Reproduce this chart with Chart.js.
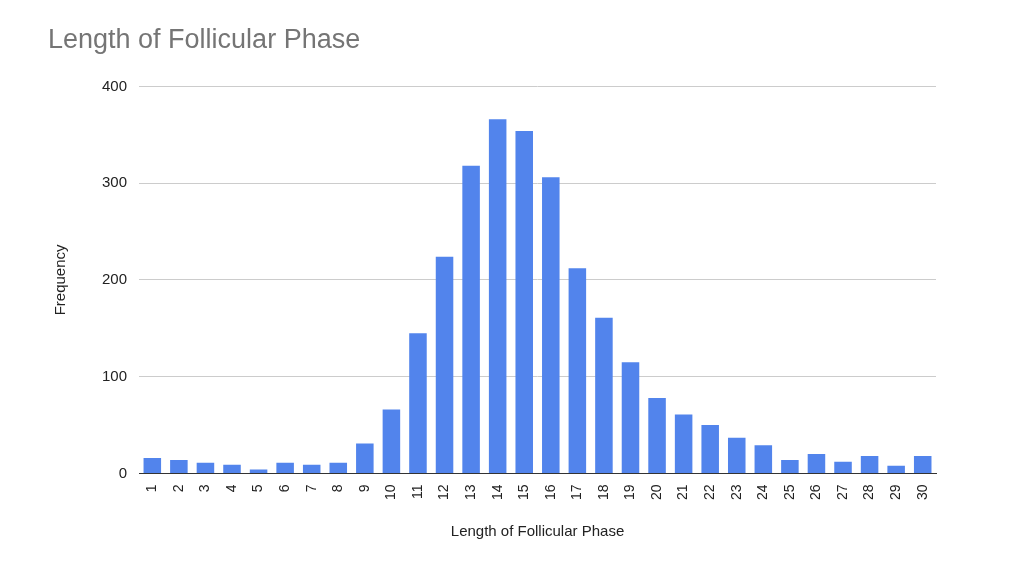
<!DOCTYPE html>
<html>
<head>
<meta charset="utf-8">
<script src="https://cdn.jsdelivr.net/npm/chart.js@4/dist/chart.umd.min.js"></script>
<style>
  html, body { margin: 0; padding: 0; background: #fff; }
  #wrap { width: 1024px; height: 565px; position: relative; }
</style>
</head>
<body>
<div id="wrap"><canvas id="histChart"></canvas></div>
<script>
const categories = ['1','2','3','4','5','6','7','8','9','10','11','12','13','14','15','16','17','18','19','20','21','22','23','24','25','26','27','28','29','30'];
const frequency = [16, 14, 11, 9, 4, 11, 9, 11, 31, 66, 145, 224, 318, 366, 354, 306, 212, 161, 115, 78, 61, 50, 37, 29, 14, 20, 12, 18, 8, 18];
const yTicks = [0, 100, 200, 300, 400];
const fontName = "'Liberation Sans', Arial, sans-serif";

const ctx = document.getElementById('histChart').getContext('2d');
const histChart = new Chart(ctx, {
    type: 'bar',
    data: {
        labels: categories,
        datasets: [{
            label: 'Frequency',
            data: frequency,
            backgroundColor: '#5284ec',
            categoryPercentage: 0.66,
            barPercentage: 1.0,
        }],
    },
    options: {
        responsive: true,
        maintainAspectRatio: false,
        animation: false,
        layout: { padding: { left: 48, right: 88, top: 12, bottom: 20 } },
        plugins: {
            legend: { display: false },
            title: {
                display: true,
                text: 'Length of Follicular Phase',
                align: 'start',
                color: '#757575',
                font: { family: fontName, size: 27, weight: 'normal' },
                padding: { top: 12, bottom: 30 },
            },
            tooltip: { enabled: false },
        },
        scales: {
            x: {
                grid: { display: false },
                border: { color: '#333' },
                ticks: {
                    color: '#222',
                    font: { family: fontName, size: 14 },
                    maxRotation: 90,
                    minRotation: 90,
                },
                title: {
                    display: true,
                    text: 'Length of Follicular Phase',
                    color: '#222',
                    font: { family: fontName, size: 15 },
                    padding: { top: 20 },
                },
            },
            y: {
                min: 0,
                max: 400,
                afterBuildTicks: axis => { axis.ticks = yTicks.map(v => ({ value: v })); },
                grid: { color: '#cccccc', drawTicks: false },
                border: { display: false },
                ticks: {
                    color: '#222',
                    font: { family: fontName, size: 15 },
                    padding: 12,
                },
                title: {
                    display: true,
                    text: 'Frequency',
                    color: '#222',
                    font: { family: fontName, size: 15 },
                    padding: { bottom: 20 },
                },
            },
        },
    },
});
</script>
</body>
</html>
